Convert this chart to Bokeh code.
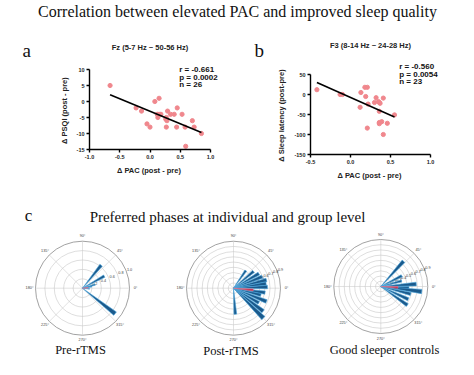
import numpy as np
from bokeh.plotting import figure
from bokeh.layouts import column, row
from bokeh.models import Range1d, FixedTicker
from bokeh.core.properties import value
from bokeh.embed import file_html
from bokeh.resources import INLINE

# ---------------- data ----------------
main_title = "Correlation between elevated PAC and improved sleep quality"

a_title = "Fz (5-7 Hz ~ 50-56 Hz)"
a_x = [-0.66, -0.23, -0.14, -0.05, 0.00, 0.08, 0.15, 0.12, 0.15, 0.13, 0.18, 0.29, 0.27,
       0.28, 0.26, 0.27, 0.34, 0.40, 0.45, 0.53, 0.44, 0.58, 0.59, 0.70, 0.73, 0.85]
a_y = [5, -2, -3, -7, -8, 0, 1, -4, -4, -5, -4, -3, -5, -6, -5.5, -8, -4, -4, -2, -4, -8,
       -8, -14, -6, -8, -10]
a_fit_x = [-0.66, 0.85]
a_fit_y = [2.1, -9.7]
a_stats = ["r  = -0.661", "p = 0.0002", "n = 26"]
a_xticks = [-1.0, -0.5, 0.0, 0.5, 1.0]
a_xlabels = ["-1.0", "-0.5", "0.0", "0.5", "1.0"]
a_yticks = [10, 5, 0, -5, -10, -15]
a_ylabels = ["10", "5", "0", "-5", "-10", "-15"]
a_xname = "\u0394 PAC  (post - pre)"
a_yname = "\u0394 PSQI  (post - pre)"

b_title = "F3 (8-14 Hz ~ 24-28 Hz)"
b_x = [-0.42, -0.13, -0.10, 0.12, 0.13, 0.18, 0.21, 0.19, 0.21, 0.22, 0.30, 0.32, 0.35,
       0.36, 0.37, 0.36, 0.36, 0.36, 0.39, 0.41, 0.41, 0.46, 0.55]
b_y = [12, 0, 0, -32, 5, 18, 18, -5, -84, -24, -20, -8, -18, -20, -22, -42, -70, -73,
       -68, -9, -100, -72, -51]
b_fit_x = [-0.42, 0.55]
b_fit_y = [30, -56]
b_stats = ["r  = -0.560", "p = 0.0054", "n = 23"]
b_xticks = [-0.5, 0.0, 0.5, 1.0]
b_xlabels = ["-0.5", "0.0", "0.5", "1.0"]
b_yticks = [50, 0, -50, -100, -150]
b_ylabels = ["50", "0", "-50", "-100", "-150"]
b_xname = "\u0394 PAC  (post - pre)"
b_yname = "\u0394 Sleep latency  (post-pre)"

c_title = "Preferred phases at individual and group level"
polar_names = ["Pre-rTMS", "Post-rTMS", "Good sleeper controls"]
angle_ticks = [0, 45, 90, 135, 180, 225, 270, 315]
angle_labels = ["0\u00b0", "45\u00b0", "90\u00b0", "135\u00b0", "180\u00b0", "225\u00b0", "270\u00b0", "315\u00b0"]

pre_rings = [0.2, 0.4, 0.6, 0.8, 1.0]
pre_ring_labels = ["0.2", "0.4", "0.6", "0.8", "1.0"]
pre_ang = [51, 29, 16, 10, -5, -38]
pre_len = [0.63, 0.53, 0.28, 0.20, 0.15, 0.88]
pre_mean = (5, 0.12)

post_rings = [0.1, 0.2, 0.3, 0.4, 0.5, 0.6, 0.7, 0.8, 0.9]
post_ring_labels = ["0.1", "0.2", "0.3", "0.4", "0.5", "0.6", "0.7", "0.8", "0.9"]
post_ang = [55, 40, 30, 22, 14, 8, 2, -8, -14, -22, -30, -38, -45, -86]
post_len = [0.41, 0.50, 0.56, 0.59, 0.65, 0.63, 0.65, 0.61, 0.54, 0.68, 0.56, 0.72, 0.81, 0.50]
post_mean = (-5, 0.38)

good_rings = [0.1, 0.2, 0.3, 0.4, 0.5, 0.6, 0.7, 0.8, 0.9]
good_ring_labels = ["0.1", "0.2", "0.3", "0.4", "0.5", "0.6", "0.7", "0.8", "0.9"]
good_ang = [48, 27, 15, 4, -3, -7, -14, -25, -35]
good_len = [0.65, 0.45, 0.41, 0.68, 0.54, 0.79, 0.59, 0.58, 0.62]
good_mean = (-3, 0.33)

# ---------------- styles ----------------
SERIF = "Liberation Serif"
SANS = "Liberation Sans"
PINK = "#f0878d"
BAR_FILL = "#1b5a8c"
BAR_LINE = "#4aa6dd"
RED = "#c42a4c"


def bare_figure(W, H, xr, yr):
    p = figure(width=W, height=H, output_backend="svg", toolbar_location=None,
               x_range=Range1d(*xr), y_range=Range1d(*yr),
               min_border=0, min_border_left=0, min_border_right=0,
               min_border_top=0, min_border_bottom=0)
    p.grid.visible = False
    p.outline_line_color = None
    return p


def header():
    p = bare_figure(458, 30, (0, 458), (0, 30))
    p.axis.visible = False
    p.text(x=[237], y=[19], text=[main_title], text_font=value(SERIF),
           text_font_size="16px", text_align="center", text_baseline="alphabetic",
           text_color="#111111")
    return p


def scatter_panel(letter, title, xs, ys, fx, fy, stats, xticks, xlabels, yticks, ylabels,
                  xname, yname, W, H, bl, br, bt, bb, letter_px, title_py, stats_px, stats_py,
                  ylab_standoff):
    x0, x1 = xticks[0], xticks[-1]
    y0, y1 = yticks[-1], yticks[0]
    fw = W - bl - br
    fh = H - bt - bb

    def dx(px):
        return x0 + (px - bl) / fw * (x1 - x0)

    def dy(py):
        return y1 - (py - bt) / fh * (y1 - y0)

    p = bare_figure(W, H, (dx(0), dx(W)), (dy(H), dy(0)))

    p.scatter(xs, ys, size=4.2, fill_color=PINK, line_color=PINK)
    p.line(fx, fy, line_color="black", line_width=1.6)

    p.xaxis.ticker = FixedTicker(ticks=xticks)
    p.yaxis.ticker = FixedTicker(ticks=yticks)
    p.xaxis.major_label_overrides = {float(t): l for t, l in zip(xticks, xlabels)}
    p.yaxis.major_label_overrides = {float(t): l for t, l in zip(yticks, ylabels)}
    p.xaxis.axis_label = xname
    p.yaxis.axis_label = yname
    p.xaxis.bounds = (x0, x1)
    p.yaxis.bounds = (y0, y1)
    p.xaxis.fixed_location = y0
    p.yaxis.fixed_location = x0
    for ax in (p.xaxis, p.yaxis):
        ax.axis_line_width = 1.4
        ax.axis_line_color = "black"
        ax.major_tick_line_width = 1.4
        ax.major_tick_out = 3
        ax.major_tick_in = 0
        ax.minor_tick_line_color = None
        ax.major_label_text_font = SANS
        ax.major_label_text_font_style = "bold"
        ax.major_label_text_font_size = "5.5px"
        ax.major_label_text_color = "#222222"
        ax.major_label_standoff = 2
        ax.axis_label_text_font = SANS
        ax.axis_label_text_font_style = "bold"
        ax.axis_label_text_font_size = "7.5px"
        ax.axis_label_text_color = "#222222"
    p.xaxis.axis_label_standoff = 4
    p.yaxis.axis_label_standoff = ylab_standoff

    p.text(x=[dx(letter_px[0])], y=[dy(letter_px[1])], text=[letter],
           text_font=value(SERIF), text_font_size="19px", text_align="left",
           text_baseline="alphabetic", text_color="#111111")
    p.text(x=[(x0 + x1) / 2], y=[dy(title_py)], text=[title], text_font=value(SANS),
           text_font_style="bold", text_font_size="7.5px", text_align="center",
           text_baseline="middle", text_color="#222222")
    p.text(x=[dx(stats_px)] * len(stats), y=[dy(v) for v in stats_py], text=stats,
           text_font=value(SANS), text_font_style="bold", text_font_size="8px",
           text_align="left", text_baseline="middle", text_color="#111111")
    return p


pa = scatter_panel("a", a_title, a_x, a_y, a_fit_x, a_fit_y, a_stats, a_xticks, a_xlabels,
                   a_yticks, a_ylabels, a_xname, a_yname, 229, 170, 89, 19, 39, 51,
                   (22, 20), 17, 178.7, [38.7, 46.7, 54.3], 5)
pb = scatter_panel("b", b_title, b_x, b_y, b_fit_x, b_fit_y, b_stats, b_xticks, b_xlabels,
                   b_yticks, b_ylabels, b_xname, b_yname, 229, 170, 81, 28, 44, 46,
                   (25, 20), 15, 169.7, [36.3, 43.7, 51.0], 5)

# ---------------- polar panel ----------------
pc = bare_figure(458, 159, (0, 458), (0, 159))
pc.axis.visible = False

pc.text(x=[28], y=[144], text=["c"], text_font=value(SERIF), text_font_size="17px",
        text_align="center", text_baseline="alphabetic", text_color="#111111")
pc.text(x=[227], y=[143], text=[c_title], text_font=value(SERIF), text_font_size="15px",
        text_align="center", text_baseline="alphabetic", text_color="#111111")

R = 47.0


def polar(cx, cy, rings, ring_labels, ang, lens, mean, name, nx, ny):
    rmax = rings[-1]
    s = R / rmax
    rr = [r * s for r in rings]
    pc.circle(x=[cx] * (len(rr) - 1), y=[cy] * (len(rr) - 1), radius=rr[:-1],
              fill_color=None, line_color="#bdbdbd", line_width=0.5)
    pc.circle(x=[cx], y=[cy], radius=[rr[-1]], fill_color=None, line_color="#7a7a7a",
              line_width=0.7)
    th = np.radians(angle_ticks)
    pc.segment(x0=[cx] * len(th), y0=[cy] * len(th), x1=cx + R * np.cos(th),
               y1=cy + R * np.sin(th), line_color="#c4c4c4", line_width=0.5)
    pc.text(x=cx + (R + 6) * np.cos(th), y=cy + (R + 5) * np.sin(th), text=angle_labels,
            text_font=value(SANS), text_font_size="3.8px", text_align="center",
            text_baseline="middle", text_color="#444444")
    t2 = np.radians(22.5)
    pc.text(x=cx + np.array(rr) * np.cos(t2) + 1, y=cy + np.array(rr) * np.sin(t2) + 1,
            text=ring_labels, text_font=value(SANS), text_font_size="3.8px",
            text_align="left", text_baseline="middle", text_color="#444444")
    a = np.array(ang, dtype=float)
    L = np.array(lens) * s
    pc.wedge(x=[cx] * len(a), y=[cy] * len(a), radius=L,
             start_angle=np.radians(a - 3), end_angle=np.radians(a + 3),
             fill_color=BAR_FILL, line_color=BAR_LINE, line_width=0.6)
    pc.wedge(x=[cx], y=[cy], radius=[mean[1] * s], start_angle=[np.radians(mean[0] - 3)],
             end_angle=[np.radians(mean[0] + 3)], fill_color=RED, line_color="#e07a90",
             line_width=0.6)
    pc.text(x=[nx], y=[ny], text=[name], text_font=value(SERIF), text_font_size="12.5px",
            text_align="center", text_baseline="middle", text_color="#111111")


polar(82, 71.3, pre_rings, pre_ring_labels, pre_ang, pre_len, pre_mean, polar_names[0], 80, 10)
polar(233, 71.3, post_rings, post_ring_labels, post_ang, post_len, post_mean, polar_names[1], 230.5, 9)
polar(380.3, 73, good_rings, good_ring_labels, good_ang, good_len, good_mean, polar_names[2], 384, 10)

layout = column(header(), row(pa, pb, spacing=0), pc, spacing=0)
open("out.html", "w").write(file_html(layout, INLINE))
